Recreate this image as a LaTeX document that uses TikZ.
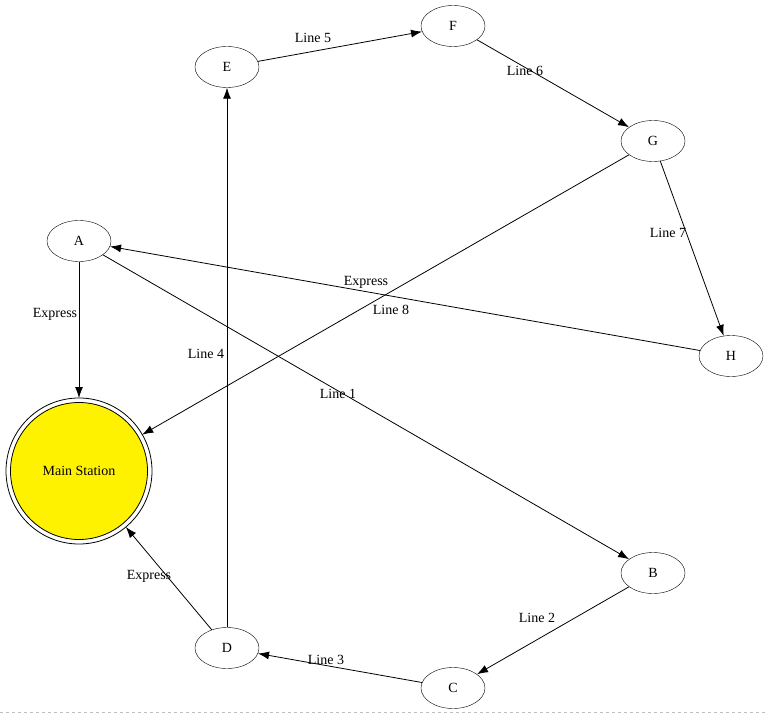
\documentclass[tikz,border=0pt]{standalone}
\usepackage{fontspec}
\setmainfont{Liberation Serif}
\usetikzlibrary{shapes.geometric,arrows.meta,calc}
\begin{document}
\begin{tikzpicture}[x=1pt,y=-1pt,
  st/.style={draw,ellipse,minimum width=64pt,minimum height=41pt,inner sep=0pt,font=\fontsize{14}{16}\selectfont},
  e/.style={draw,-{Latex[length=11pt,width=8pt]},line width=0.8pt},
  lb/.style={font=\fontsize{14}{16}\selectfont}]
\useasboundingbox (0,0) rectangle (768,714);
\node[st] (E) at (227,67) {E};
\node[st] (F) at (453,26) {F};
\node[st] (G) at (653,141) {G};
\node[st] (A) at (79,241) {A};
\node[st] (H) at (731,356) {H};
\node[st] (B) at (653,573) {B};
\node[st] (C) at (453,688) {C};
\node[st] (D) at (227,648) {D};
\node[draw,circle,fill=yellow,minimum size=137pt,inner sep=0pt,line width=0.8pt,font=\fontsize{14}{16}\selectfont] (M) at (79,471) {Main Station};
\draw[line width=0.8pt] (M) circle (73);
\coordinate (MA) at ($(M)!73pt!(A)$);
\coordinate (MG) at ($(M)!73pt!(G)$);
\coordinate (MD) at ($(M)!73pt!(D)$);
\draw[e] (E) -- (F); \draw[e] (F) -- (G); \draw[e] (G) -- (H); \draw[e] (H) -- (A);
\draw[e] (A) -- (MA);
\draw[e] (A) -- (B);
\draw[e] (G) -- (MG);
\draw[e] (D) -- (E);
\draw[e] (D) -- (MD);
\draw[e] (B) -- (C); \draw[e] (C) -- (D);
\node[lb] at (313,38) {Line 5};
\node[lb] at (525,71) {Line 6};
\node[lb] at (668,233) {Line 7};
\node[lb] at (366,282) {Express};
\node[lb] at (391,310) {Line 8};
\node[lb] at (206,354) {Line 4};
\node[lb] at (338,394) {Line 1};
\node[lb] at (55,314) {Express};
\node[lb] at (149,576) {Express};
\node[lb] at (537,618) {Line 2};
\node[lb] at (326,660) {Line 3};
\draw[gray!50,dashed,line width=1pt] (0,712) -- (768,712);
\end{tikzpicture}
\end{document}
